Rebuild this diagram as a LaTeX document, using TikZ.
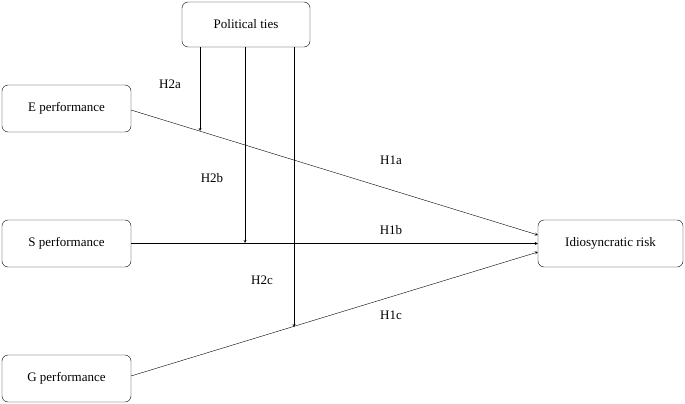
\documentclass[tikz,border=0pt]{standalone}
\usepackage{fontspec}
\setmainfont{Liberation Serif}
\begin{document}
\begin{tikzpicture}[x=1pt,y=-1pt,
  box/.style={draw,rounded corners=6pt,minimum width=129pt,minimum height=47pt,font=\fontsize{13}{15}\selectfont},
  lab/.style={font=\fontsize{13}{15}\selectfont},
  arr/.style={->,>=stealth}]
\useasboundingbox (0,0) rectangle (685,404);
\node[box,minimum width=128pt,minimum height=45pt] (p) at (246,24.5) {Political ties};
\node[box] (e) at (66.5,108.5) {E performance};
\node[box] (s) at (66.5,243.5) {S performance};
\node[box] (g) at (66.5,378.5) {G performance};
\node[box,minimum width=145pt] (r) at (610.5,243.5) {Idiosyncratic risk};
\coordinate (es) at (131,110); \coordinate (ee) at (538,235);
\coordinate (gs) at (131,376); \coordinate (ge) at (538,252);
\draw[arr] (es) -- (ee);
\draw[arr] (s.east) -- (r.west);
\draw[arr] (gs) -- (ge);
\coordinate (a1) at (200,47); \coordinate (a2) at (200,131);
\coordinate (b1) at (245,47); \coordinate (b2) at (245,243);
\coordinate (c1) at (294,47); \coordinate (c2) at (294,327);
\draw[arr] (a1) -- (a2);
\draw[arr] (b1) -- (b2);
\draw[arr] (c1) -- (c2);
\node[lab] (l1) at (170,84) {H2a};
\node[lab] (l2) at (212,178) {H2b};
\node[lab] (l3) at (262,280) {H2c};
\node[lab] (l4) at (391,160) {H1a};
\node[lab] (l5) at (391,230) {H1b};
\node[lab] (l6) at (391,315) {H1c};
\end{tikzpicture}
\end{document}
